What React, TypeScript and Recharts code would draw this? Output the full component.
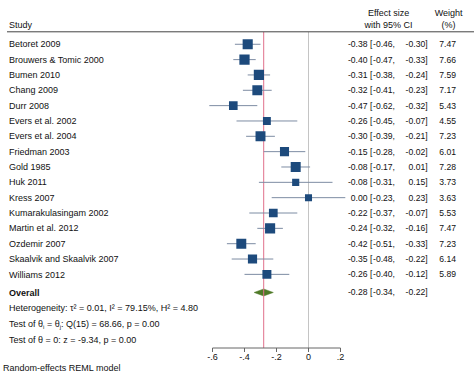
import React from "react";
import {
  ScatterChart,
  Scatter,
  XAxis,
  YAxis,
  ZAxis,
  ErrorBar,
  ReferenceLine,
  ReferenceArea,
} from "recharts";

// ---- data ----
const studies = [
  "Betoret 2009",
  "Brouwers & Tomic 2000",
  "Bumen 2010",
  "Chang 2009",
  "Durr 2008",
  "Evers et al. 2002",
  "Evers et al. 2004",
  "Friedman 2003",
  "Gold 1985",
  "Huk 2011",
  "Kress 2007",
  "Kumarakulasingam 2002",
  "Martin et al. 2012",
  "Ozdemir 2007",
  "Skaalvik and Skaalvik 2007",
  "Williams 2012",
];
const effects = [-0.38, -0.4, -0.31, -0.32, -0.47, -0.26, -0.3, -0.15, -0.08, -0.08, 0.0, -0.22, -0.24, -0.42, -0.35, -0.26];
const lowers = [-0.46, -0.47, -0.38, -0.41, -0.62, -0.45, -0.39, -0.28, -0.17, -0.31, -0.23, -0.37, -0.32, -0.51, -0.48, -0.4];
const uppers = [-0.3, -0.33, -0.24, -0.23, -0.32, -0.07, -0.21, -0.02, 0.01, 0.15, 0.23, -0.07, -0.16, -0.33, -0.22, -0.12];
const weights = [7.47, 7.66, 7.59, 7.17, 5.43, 4.55, 7.23, 6.01, 7.28, 3.73, 3.63, 5.53, 7.47, 7.23, 6.14, 5.89];

const overall = { name: "Overall", es: -0.28, lo: -0.34, hi: -0.22 };
const xTicks = [-0.6, -0.4, -0.2, 0, 0.2];
const xTickLabels = ["-.6", "-.4", "-.2", "0", ".2"];
const statLines = [
  { kind: "het", tau2: "0.01", i2: "79.15%", h2: "4.80" },
  { kind: "q", df: 15, q: "68.66", p: "0.00" },
  { kind: "z", z: "-9.34", p: "0.00" },
];
const note = "Random-effects REML model";

// ---- layout constants ----
const W = 474;
const H = 379;
const FONT = "'Liberation Sans', Arial, Helvetica, sans-serif";
const FS = 9;
const NFS = 8.6;
const OVERALL_ROW = 17.18;
const Y_DOMAIN: [number, number] = [0.2, 20.8];
const X_DOMAIN: [number, number] = [-0.7, 0.3];

const studyRows = studies.map((name, i) => ({
  row: i + 1,
  name,
  es: effects[i],
  lo: lowers[i],
  hi: uppers[i],
  weight: weights[i],
  err: [effects[i] - lowers[i], uppers[i] - effects[i]],
}));
const overallRow = { row: OVERALL_ROW, ...overall, weight: null as number | null, bold: true };
const allRows: any[] = [...studyRows, overallRow];
const rowTicks = allRows.map((r) => r.row);
const findRow = (v: number) => allRows.find((r) => Math.abs(r.row - v) < 1e-6);

const fmt = (v: number) => v.toFixed(2);

const StudyTick = (props: any) => {
  const { y, payload } = props;
  const r = findRow(payload.value);
  if (!r) return null;
  return (
    <text x={9} y={y} dy="0.35em" fontSize={FS} fontFamily={FONT} fill="#111" fontWeight={r.bold ? "bold" : "normal"}>
      {r.name}
    </text>
  );
};

const EffectTick = (props: any) => {
  const { y, payload } = props;
  const r = findRow(payload.value);
  if (!r) return null;
  const common = { y, dy: "0.35em", fontSize: NFS, fontFamily: FONT, fill: "#111" } as any;
  return (
    <g>
      <text {...common} x={372.3} textAnchor="end" style={{ whiteSpace: "pre" }}>{fmt(r.es) + " ["}</text>
      <text {...common} x={395} textAnchor="end">{fmt(r.lo) + ","}</text>
      <text {...common} x={427.6} textAnchor="end">{fmt(r.hi) + "]"}</text>
      {r.weight != null && (
        <text {...common} x={456} textAnchor="end">{fmt(r.weight)}</text>
      )}
    </g>
  );
};

const Diamond = (props: any) => {
  const { x, y, width, height } = props;
  const xm = x + (width * (overall.es - overall.lo)) / (overall.hi - overall.lo);
  const pts = `${x},${y + height / 2} ${xm},${y} ${x + width},${y + height / 2} ${xm},${y + height}`;
  return <polygon points={pts} fill="#4f7a28" stroke="#4f7a28" strokeWidth={0.5} />;
};

const Sub = ({ children }: any) => (
  <tspan fontSize={6} dy={2}>{children}</tspan>
);

export default function App() {
  const textProps = { fontSize: FS, fontFamily: FONT, fill: "#111" } as any;
  return (
    <div style={{ position: "absolute", left: 0, top: 0, width: W, height: H, background: "#fff" }}>
      <ScatterChart width={W} height={H} margin={{ top: 32, right: 0, bottom: 0, left: 0 }}>
        <XAxis
          type="number"
          dataKey="es"
          domain={X_DOMAIN}
          ticks={xTicks}
          tickFormatter={(v: number) => xTickLabels[xTicks.findIndex((t) => Math.abs(t - v) < 1e-9)] ?? String(v)}
          axisLine={false}
          tickLine={{ stroke: "#666" }}
          tickSize={4}
          height={31}
          tick={{ fontSize: FS, fontFamily: FONT, fill: "#111" }}
          allowDataOverflow
        />
        <YAxis
          yAxisId="left"
          type="number"
          dataKey="row"
          domain={Y_DOMAIN}
          reversed
          ticks={rowTicks}
          interval={0}
          width={196.5}
          axisLine={false}
          tickLine={false}
          tick={<StudyTick />}
          allowDataOverflow
        />
        <YAxis
          yAxisId="right"
          orientation="right"
          type="number"
          dataKey="row"
          domain={Y_DOMAIN}
          reversed
          ticks={rowTicks}
          interval={0}
          width={117.5}
          axisLine={false}
          tickLine={false}
          tick={<EffectTick />}
          allowDataOverflow
        />
        <ZAxis type="number" dataKey="weight" domain={[0, 8]} range={[0, 8 * 13.7]} />
        <ReferenceLine yAxisId="left" x={0} stroke="#c4c4c4" strokeWidth={1} />
        <ReferenceLine yAxisId="left" x={overall.es} stroke="#e0708c" strokeWidth={1} />
        <ReferenceLine
          yAxisId="left"
          segment={[
            { x: xTicks[0], y: Y_DOMAIN[1] },
            { x: xTicks[xTicks.length - 1], y: Y_DOMAIN[1] },
          ]}
          stroke="#666"
          strokeWidth={1}
          ifOverflow="visible"
        />
        <Scatter
          yAxisId="left"
          data={studyRows}
          shape="square"
          fill="#1d4a7c"
          isAnimationActive={false}
        >
          <ErrorBar dataKey="err" direction="x" width={0} stroke="#7d8ca3" strokeWidth={1} />
        </Scatter>
        <Scatter yAxisId="right" data={[overallRow]} shape={() => null} isAnimationActive={false} />
        <ReferenceArea
          yAxisId="right"
          x1={overall.lo}
          x2={overall.hi}
          y1={OVERALL_ROW - 0.23}
          y2={OVERALL_ROW + 0.23}
          shape={<Diamond />}
          ifOverflow="visible"
        />
      </ScatterChart>
      <svg width={W} height={H} style={{ position: "absolute", left: 0, top: 0, pointerEvents: "none" }}>
        <text {...textProps} x={9} y={25} dy="0.35em">Study</text>
        <text {...textProps} x={388.6} y={12.7} dy="0.35em" textAnchor="middle">Effect size</text>
        <text {...textProps} x={388.6} y={25} dy="0.35em" textAnchor="middle">with 95% CI</text>
        <text {...textProps} x={448.6} y={12.7} dy="0.35em" textAnchor="middle">Weight</text>
        <text {...textProps} x={448.6} y={25} dy="0.35em" textAnchor="middle">(%)</text>
        <line x1={7} x2={W} y1={31.8} y2={31.8} stroke="#444" strokeWidth={1} />
        <text {...textProps} x={9} y={308.3} dy="0.35em">
          {`Heterogeneity: τ² = ${statLines[0].tau2}, I² = ${statLines[0].i2}, H² = ${statLines[0].h2}`}
        </text>
        <text {...textProps} x={9} y={324} dy="0.35em">
          Test of θ<Sub>i</Sub>
          <tspan dy={-2}> = θ</tspan>
          <Sub>j</Sub>
          <tspan dy={-2}>{`: Q(${statLines[1].df}) = ${statLines[1].q}, p = ${statLines[1].p}`}</tspan>
        </text>
        <text {...textProps} x={9} y={340} dy="0.35em">
          {`Test of θ = 0: z = ${statLines[2].z}, p = ${statLines[2].p}`}
        </text>
        <text {...textProps} x={3} y={368} dy="0.35em">{note}</text>
      </svg>
    </div>
  );
}
